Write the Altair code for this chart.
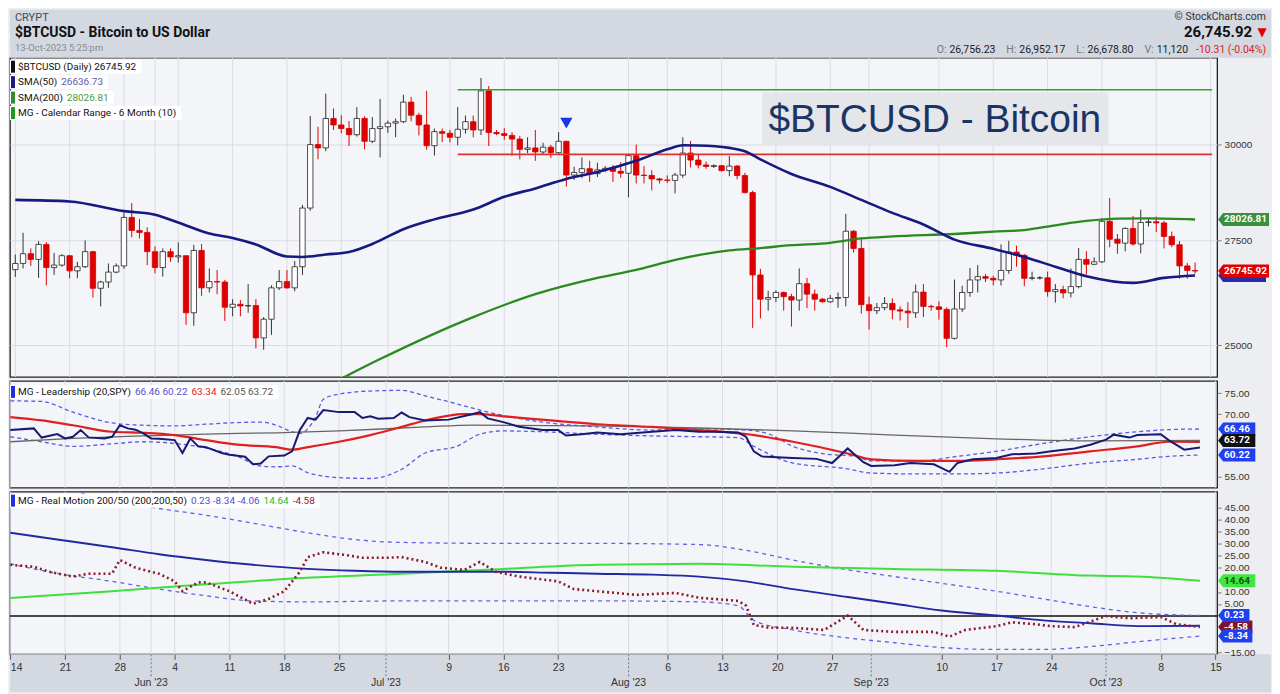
import json
import altair as alt
import pandas as pd

# ---------------------------------------------------------------- data
T0 = pd.Timestamp("2023-05-14")          # first daily candle (crypto trades 7 days a week)

OPEN = [26780, 26930, 27170, 27030, 27400, 26830, 26890, 27120, 26750, 26850,
        27220, 26330, 26480, 26720, 26870, 28080, 27750, 27700, 27220, 26830,
        27220, 27090, 27120, 25750, 27250, 26340, 26490, 26480, 25880, 25950,
        25910, 25920, 25170, 25600, 26340, 26490, 26340, 26850, 28320, 30000,
        29910, 30720, 30540, 30440, 30270, 30720, 30090, 30440, 30490, 30590,
        30630, 31180, 30810, 30540, 29970, 30355, 30310, 30200, 30420, 30630,
        30400, 31500, 30330, 30300, 30250, 30150, 29870, 29910, 29800, 29930,
        29780, 30090, 29180, 29250, 29350, 29220, 29320, 29360, 29280, 29230,
        29700, 29180, 29170, 29080, 29050, 29040, 29180, 29770, 29580, 29450,
        29410, 29430, 29300, 29420, 29170, 28720, 26650, 26070, 26110, 26230,
        26130, 26050, 26440, 26190, 26070, 26010, 26090, 26110, 27730, 27300,
        25940, 25800, 25870, 25970, 25820, 25790, 25750, 26240, 25900, 25890,
        25830, 25160, 25840, 26230, 26530, 26610, 26570, 26530, 26760, 27210,
        27130, 26570, 26580, 26580, 26250, 26300, 26220, 26370, 27030, 26910,
        26970, 27980, 27530, 27430, 27800, 27410, 27950, 27970, 27940, 27600,
        27390, 26870, 26756.23]
HIGH = [27150, 27690, 27300, 27480, 27460, 27190, 27160, 27140, 26970, 27500,
        27240, 26510, 26930, 26930, 28200, 28450, 28040, 27830, 27350, 27300,
        27300, 27450, 27130, 27390, 27410, 26810, 26770, 26530, 26070, 26050,
        26430, 26070, 25650, 26400, 26770, 26770, 26990, 28400, 30790, 30490,
        31420, 31000, 30810, 30650, 31040, 30780, 30760, 31270, 30660, 30720,
        31390, 31330, 30880, 31500, 30440, 30440, 30400, 31040, 30800, 30800,
        31870, 31640, 30400, 30450, 30340, 30240, 30200, 30400, 30050, 29990,
        30340, 30100, 29400, 29650, 29560, 29510, 29420, 29450, 29520, 29740,
        30000, 29420, 29310, 29110, 29170, 29240, 30200, 30100, 29720, 29540,
        29470, 29450, 29690, 29450, 29240, 28770, 26800, 26270, 26280, 26250,
        26200, 26810, 26580, 26300, 26100, 26170, 26230, 28170, 27760, 27570,
        26130, 25980, 26120, 26090, 25900, 26000, 26420, 26430, 25940, 26020,
        25880, 26540, 26390, 26820, 26890, 26670, 26630, 27400, 27490, 27370,
        27160, 26730, 26620, 26730, 26430, 26390, 26810, 27310, 27230, 27080,
        28060, 28580, 27660, 27830, 28120, 28280, 28040, 28100, 27990, 27720,
        27480, 26940, 26952.17]
LOW = [26600, 26810, 26870, 26580, 26400, 26650, 26850, 26570, 26570, 26820,
       26110, 25900, 26340, 26690, 26800, 27580, 27550, 26890, 26690, 26610,
       26970, 26950, 25470, 25450, 26150, 26230, 26190, 25560, 25670, 25670,
       25750, 24930, 24900, 25240, 26290, 26320, 26260, 26650, 28250, 29600,
       29820, 30400, 30310, 29960, 30220, 29870, 30040, 29650, 30320, 30200,
       30590, 30640, 30250, 29860, 29700, 30070, 30060, 29980, 30300, 30200,
       30260, 29960, 30260, 30130, 29700, 29600, 29770, 29560, 29740, 29640,
       29740, 28880, 29050, 29100, 29000, 29130, 29260, 29000, 29110, 28600,
       28960, 28960, 28780, 28960, 28970, 28700, 29110, 29380, 29360, 29350,
       29370, 29270, 29150, 29070, 28700, 25400, 25620, 25800, 26000, 25800,
       25430, 25800, 25860, 25800, 25990, 25980, 25870, 25900, 27200, 25730,
       25360, 25720, 25810, 25600, 25570, 25400, 25630, 25650, 25800, 25590,
       24960, 25130, 25770, 26130, 26230, 26480, 26400, 26400, 26680, 26850,
       26380, 26520, 26540, 26130, 25990, 26090, 26110, 26330, 26660, 26890,
       26940, 27330, 27170, 27230, 27370, 27180, 27850, 27710, 27300, 27330,
       26560, 26560, 26678.80]
CLOSE = [26930, 27170, 27030, 27400, 26830, 26890, 27120, 26750, 26850, 27220,
         26330, 26480, 26720, 26870, 28080, 27750, 27700, 27220, 26830, 27220,
         27090, 27120, 25750, 27250, 26340, 26490, 26480, 25880, 25950, 25910,
         25920, 25170, 25600, 26340, 26490, 26340, 26850, 28320, 30000, 29910,
         30720, 30540, 30440, 30270, 30720, 30090, 30440, 30490, 30590, 30630,
         31180, 30810, 30540, 29970, 30355, 30310, 30200, 30420, 30630, 30400,
         31500, 30330, 30300, 30250, 30150, 29870, 29910, 29800, 29930, 29780,
         30090, 29180, 29250, 29350, 29220, 29320, 29360, 29280, 29230, 29700,
         29180, 29170, 29080, 29050, 29040, 29180, 29770, 29580, 29450, 29410,
         29430, 29300, 29420, 29170, 28720, 26650, 26070, 26110, 26230, 26130,
         26050, 26440, 26190, 26070, 26010, 26090, 26110, 27730, 27300, 25940,
         25800, 25870, 25970, 25820, 25790, 25750, 26240, 25900, 25890, 25830,
         25160, 25840, 26230, 26530, 26610, 26570, 26530, 26760, 27210, 27130,
         26570, 26580, 26580, 26250, 26300, 26220, 26370, 27030, 26910, 26970,
         27980, 27530, 27430, 27800, 27410, 27950, 27970, 27940, 27600, 27390,
         26870, 26760, 26745.92]

SMA50_DATES = ["05-14", "05-21", "05-28", "06-01", "06-04", "06-08", "06-11", "06-14", "06-18", "06-20",
               "06-23", "06-26", "06-29", "07-03", "07-07", "07-12", "07-16", "07-20", "07-24", "07-28",
               "08-02", "08-06", "08-08", "08-10", "08-14", "08-16", "08-18", "08-22", "08-27", "08-31",
               "09-04", "09-08", "09-12", "09-17", "09-21", "09-25", "09-29", "10-05", "10-09", "10-13"]
SMA50 = [28530, 28490, 28240, 28150, 27950, 27670, 27560, 27400, 27100, 27090,
         27150, 27210, 27410, 27780, 28030, 28280, 28610, 28830, 29080, 29260,
         29560, 29870, 29980, 29975, 29910, 29820, 29600, 29210, 28870, 28530,
         28195, 27900, 27520, 27290, 27090, 26850, 26620, 26460, 26580, 26637]
SMA200_DATES = ["06-23", "06-30", "07-12", "07-20", "07-28", "08-02", "08-06", "08-10", "08-14", "08-18",
                "08-22", "08-27", "08-31", "09-04", "09-12", "09-17", "09-21", "09-25", "09-29", "10-03",
                "10-07", "10-13"]
SMA200 = [24080, 24690, 25650, 26190, 26580, 26775, 26970, 27135, 27250, 27310,
          27380, 27440, 27550, 27600, 27660, 27720, 27760, 27880, 27990, 28050,
          28055, 28027]
CAL_START, CAL_HIGH, CAL_LOW = "07-10", 31530, 29735
MARK_DATE, MARK_PRICE = "07-24", 30590

LEAD_DATES = ["05-14", "05-17", "05-18", "05-20", "05-21", "05-22", "05-23", "05-24", "05-26", "05-27",
              "05-28", "05-29", "05-30", "05-31", "06-01", "06-02", "06-04", "06-05", "06-06", "06-07",
              "06-08", "06-10", "06-11", "06-13", "06-14", "06-15", "06-16", "06-18", "06-19", "06-20",
              "06-21", "06-22", "06-23", "06-25", "06-27", "06-28", "06-29", "06-30", "07-02", "07-03",
              "07-04", "07-06", "07-09", "07-12", "07-13", "07-14", "07-16", "07-18", "07-21", "07-23",
              "07-24", "07-26", "07-28", "07-31", "08-04", "08-07", "08-10", "08-12", "08-15", "08-16",
              "08-17", "08-18", "08-20", "08-22", "08-25", "08-27", "08-29", "08-31", "09-01", "09-04",
              "09-06", "09-09", "09-11", "09-12", "09-14", "09-17", "09-19", "09-22", "09-24", "09-27",
              "09-29", "10-01", "10-02", "10-04", "10-05", "10-08", "10-09", "10-11", "10-13"]
LEAD = [66.2, 66.6, 64.4, 65.25, 64.2, 64.6, 66.2, 64.45, 64.2, 64.6,
        67.35, 66.6, 66.3, 65.4, 64.2, 64.1, 63.8, 60.7, 64.2, 62.3,
        62.1, 60.7, 60.3, 59.8, 58.0, 58.2, 59.9, 60.1, 61.1, 66.2,
        69.1, 68.7, 71.0, 70.5, 70.5, 69.1, 69.5, 68.9, 69.1, 70.4,
        69.3, 68.5, 68.7, 70.0, 70.5, 69.0, 68.1, 67.0, 66.2, 66.2,
        64.9, 65.2, 65.6, 65.2, 65.8, 66.2, 65.8, 65.8, 65.6, 64.6,
        61.1, 59.9, 59.7, 59.5, 59.3, 58.3, 61.8, 58.5, 57.6, 57.8,
        58.3, 58.0, 56.2, 58.3, 59.2, 59.5, 60.4, 60.6, 61.1, 61.8,
        62.7, 63.9, 65.1, 64.4, 65.0, 65.2, 63.8, 61.5, 62.05]
LEAD_MA_DATES = ["05-14", "05-18", "05-22", "05-27", "05-31", "06-04", "06-08", "06-12", "06-17", "06-19",
                 "06-21", "06-25", "06-29", "07-03", "07-06", "07-11", "07-13", "07-16", "07-22", "07-28",
                 "08-04", "08-10", "08-16", "08-22", "08-29", "09-01", "09-07", "09-12", "09-17", "09-23",
                 "09-29", "10-05", "10-09", "10-13"]
LEAD_MA = [69.3, 68.5, 67.35, 65.8, 65.55, 65.0, 63.8, 62.7, 62.1, 61.5,
           62.1, 63.4, 65.0, 66.95, 68.5, 70.0, 70.0, 69.5, 68.5, 67.6,
           66.95, 66.2, 65.25, 63.4, 60.6, 59.2, 58.8, 58.8, 59.2, 59.9,
           61.1, 62.3, 63.4, 63.34]
LEAD_SLOW_DATES = ["05-14", "05-22", "05-31", "06-08", "06-17", "06-25", "07-06", "07-12", "07-28", "08-10",
                   "08-22", "09-04", "09-17", "09-29", "10-13"]
LEAD_SLOW = [63.4, 64.2, 64.8, 65.25, 65.55, 66.0, 66.95, 67.4, 67.2, 66.7, 66.0, 65.0, 64.1, 63.6, 63.72]
LEAD_UP_DATES = ["05-14", "05-18", "05-22", "05-27", "05-31", "06-04", "06-08", "06-12", "06-15", "06-17",
                 "06-19", "06-20", "06-22", "06-23", "06-25", "06-29", "07-03", "07-06", "07-10", "07-13",
                 "07-17", "07-21", "07-28", "08-04", "08-10", "08-16", "08-19", "08-22", "08-26", "08-30",
                 "09-01", "09-07", "09-12", "09-17", "09-23", "09-29", "10-05", "10-09", "10-13"]
LEAD_UP = [73.2, 73.05, 70.5, 67.9, 67.35, 67.2, 67.6, 68.0, 68.1, 67.35,
           65.8, 65.4, 69.3, 73.6, 74.8, 75.55, 75.7, 74.4, 72.5, 71.0,
           69.3, 68.1, 66.95, 66.2, 66.5, 66.2, 65.2, 62.3, 60.5, 59.9,
           58.8, 58.8, 59.9, 61.1, 63.0, 64.6, 65.8, 66.3, 66.46]
LEAD_LO_DATES = ["05-14", "05-18", "05-22", "05-27", "05-31", "06-04", "06-08", "06-12", "06-15", "06-17",
                 "06-19", "06-21", "06-25", "06-29", "07-03", "07-06", "07-10", "07-13", "07-16", "07-21",
                 "07-28", "08-04", "08-10", "08-15", "08-17", "08-22", "08-29", "09-01", "09-07", "09-12",
                 "09-17", "09-23", "09-29", "10-05", "10-09", "10-13"]
LEAD_LO = [64.6, 63.4, 62.3, 62.9, 63.4, 63.0, 61.9, 59.9, 57.6, 57.4,
           57.6, 56.0, 54.8, 54.6, 56.8, 60.7, 62.3, 65.2, 66.0, 65.8,
           65.2, 64.8, 64.6, 64.4, 62.3, 58.3, 56.9, 55.9, 55.7, 55.7,
           55.9, 56.9, 58.3, 59.2, 59.9, 60.22]

RM_DATES = ["05-14", "05-20", "05-27", "06-02", "06-08", "06-14", "06-21", "06-27", "07-03", "07-16",
            "07-22", "07-28", "08-04", "08-10", "08-16", "08-22", "08-29", "09-04", "09-10", "09-17",
            "09-23", "09-29", "10-05", "10-13"]
RM = [34.6, 31.8, 28.6, 25.7, 23.3, 21.3, 19.6, 18.8, 18.4, 18.4,
      18.0, 17.6, 17.2, 16.4, 14.4, 11.2, 7.9, 5.1, 2.3, 0.2,
      -1.8, -3.0, -4.2, -4.06]
RM_SIG_DATES = ["05-14", "05-27", "06-08", "06-21", "07-03", "07-16", "07-28", "08-10", "08-22", "09-04",
                "09-17", "09-29", "10-05", "10-13"]
RM_SIG = [7.5, 10.3, 13.2, 15.9, 17.6, 19.6, 21.3, 21.7, 20.5, 19.6, 18.8, 16.8, 16.4, 14.64]
RM_UP_DATES = ["05-22", "06-02", "06-08", "06-14", "06-21", "06-27", "07-03", "07-16", "07-28", "08-10",
               "08-16", "08-22", "08-29", "09-04", "09-10", "09-17", "09-23", "09-29", "10-05", "10-13"]
RM_UP = [52.0, 44.7, 41.9, 38.6, 34.6, 31.8, 30.6, 30.2, 30.2, 29.7,
         27.3, 23.3, 19.2, 16.4, 13.6, 10.3, 7.1, 3.9, 1.4, 0.23]
RM_LO_DATES = ["05-14", "05-20", "05-27", "06-02", "06-08", "06-14", "06-21", "07-03", "07-16", "07-28",
               "08-10", "08-15", "08-17", "08-22", "08-29", "09-04", "09-10", "09-17", "09-23", "09-29",
               "10-05", "10-13"]
RM_LO = [21.7, 17.7, 14.4, 11.2, 8.4, 6.3, 5.9, 6.3, 6.3, 6.3,
         5.9, 4.3, -1.8, -5.8, -9.1, -11.1, -13.1, -13.9, -13.9, -12.7,
         -10.7, -8.34]
RM_PX_DATES = ["05-14", "05-17", "05-19", "05-22", "05-24", "05-27", "05-28", "05-30", "06-02", "06-04",
               "06-05", "06-07", "06-08", "06-11", "06-14", "06-16", "06-18", "06-20", "06-21", "06-23",
               "06-26", "06-28", "07-01", "07-03", "07-06", "07-08", "07-11", "07-13", "07-15", "07-18",
               "07-23", "07-25", "07-28", "08-02", "08-07", "08-10", "08-15", "08-16", "08-17", "08-19",
               "08-22", "08-26", "08-29", "08-31", "09-04", "09-09", "09-11", "09-13", "09-17", "09-19",
               "09-22", "09-24", "09-27", "10-01", "10-04", "10-08", "10-10", "10-13"]
RM_PX = [21.3, 20.5, 18.4, 16.4, 17.6, 17.6, 23.3, 20.1, 17.6, 14.4,
         10.3, 14.0, 14.0, 10.3, 5.1, 7.1, 10.3, 18.4, 24.5, 26.5,
         25.3, 24.2, 24.2, 24.5, 22.5, 20.1, 19.2, 22.5, 18.4, 16.4,
         14.4, 11.2, 10.3, 8.8, 9.6, 7.6, 6.3, 4.3, -3.7, -4.9,
         -4.9, -5.8, 0.2, -5.8, -6.6, -6.6, -8.6, -5.8, -4.2, -2.6,
         -3.4, -4.2, -4.6, 0.0, -0.9, -0.4, -3.4, -4.58]

TICK_DATES = ["05-14", "05-21", "05-28", "06-04", "06-11", "06-18", "06-25", "07-09", "07-16", "07-23",
              "08-06", "08-13", "08-20", "08-27", "09-10", "09-17", "09-24", "10-08", "10-15"]
TICK_LABELS = ["14", "21", "28", "4", "11", "18", "25", "9", "16", "23",
               "6", "13", "20", "27", "10", "17", "24", "8", "15"]
MONTH_DATES = ["06-01", "07-01", "08-01", "09-01", "10-01"]
MONTH_LABELS = ["Jun '23", "Jul '23", "Aug '23", "Sep '23", "Oct '23"]


def dd(lst):
    return [(pd.Timestamp("2023-" + s) - T0).days for s in lst]


# ---------------------------------------------------------------- layout
W, S = 1210, 54
H1, H2, H3 = 320, 107, 163
HDR, XAX = 48, 38
XS = alt.Scale(domain=[-0.04, 154.2], nice=False, zero=False)
YS1 = alt.Scale(type="log", domain=[24293, 32463], nice=False)
YS2 = alt.Scale(domain=[52.4, 77.97], nice=False, zero=False)
YS3 = alt.Scale(domain=[-15.9, 51.7], nice=False, zero=False)

CW = {c: 0.5615 for c in "0123456789$"}
CW.update({'.': 0.263, ',': 0.196, ' ': 0.248, '-': 0.276, '(': 0.342, ')': 0.348, '/': 0.412,
           ':': 0.242, '%': 0.73, "'": 0.17,
           'A': .652, 'B': .622, 'C': .651, 'D': .656, 'E': .568, 'F': .553, 'G': .681, 'H': .713,
           'I': .272, 'K': .627, 'L': .538, 'M': .873, 'N': .713, 'O': .688, 'P': .631, 'R': .616,
           'S': .593, 'T': .596, 'U': .648, 'V': .636, 'Y': .601,
           'a': .544, 'b': .561, 'c': .523, 'd': .564, 'e': .530, 'g': .561, 'h': .551, 'i': .243,
           'k': .507, 'l': .243, 'm': .876, 'n': .552, 'o': .570, 'p': .561, 'r': .338, 's': .516,
           't': .327, 'u': .551, 'y': .474})


def tw(s, size, bold=False):
    return sum(CW.get(c, 0.55) for c in s) * size * (1.05 if bold else 1.0)


def one():
    return alt.Data(values=[{"k": 1}])


def txt(s, x, y, size=10, color="#111", weight="normal", align="left", font="Roboto"):
    return alt.Chart(one()).mark_text(text=s, fontSize=size, color=color, fontWeight=weight,
                                      align=align, baseline="middle", font=font).encode(
        x=alt.value(x), y=alt.value(y))


def box(x0, x1, y0, y1, color):
    return alt.Chart(one()).mark_rect(color=color, opacity=1).encode(
        x=alt.value(x0), x2=alt.value(x1), y=alt.value(y0), y2=alt.value(y1))


AXF = dict(orient="right", tickSize=4, tickColor="#777", labelPadding=3, labelFontSize=10,
           labelFont="Liberation Sans", labelColor="#333", domain=False, title=None)
AX1 = alt.Axis(values=[25000, 27500, 30000], format="d", grid=True, gridColor="#d9dce4", **AXF)
AX2 = alt.Axis(values=[55, 70, 75], format=".2f", grid=False, **AXF)
AX3 = alt.Axis(values=[45, 40, 35, 30, 25, 20, 10, 5, -15], format=".2f", grid=False, zindex=1, **AXF)
XAXIS = alt.Axis(values=dd(TICK_DATES),
                 labelExpr="%s[indexof(%s, datum.value)]" % (json.dumps(TICK_LABELS), json.dumps(dd(TICK_DATES))),
                 orient="bottom", tickSize=5, tickColor="#555", labelColor="#333", labelFontSize=10.5,
                 labelFont="Liberation Sans", labelPadding=3, domain=False, grid=False, title=None,
                 zindex=1, labelFlush=True, labelOverlap=False)


class Panel:
    """Every layer of a panel carries the same axis definition, so nothing conflicts when merged."""

    def __init__(self, ys, yax, xax):
        self.ys, self.yax, self.xax = ys, yax, xax

    def x(self, field="day"):
        return alt.X(field + ":Q", scale=XS, axis=self.xax)

    def y(self, field="v"):
        return alt.Y(field + ":Q", scale=self.ys, axis=self.yax)

    def line(self, dates, vals, color, width=2.0, dash=None, interp="monotone"):
        df = pd.DataFrame({"day": dd(dates), "v": vals})
        kw = dict(color=color, strokeWidth=width, interpolate=interp, clip=True)
        if dash:
            kw["strokeDash"] = dash
        return alt.Chart(df).mark_line(**kw).encode(x=self.x(), y=self.y())

    def grid(self, h):
        return alt.Chart(pd.DataFrame({"day": GRID_DAYS})).mark_rule(color="#d9dce4", strokeWidth=1).encode(
            x=self.x(), y=alt.value(0), y2=alt.value(h))

    def tags(self, items):
        rows = []
        for v, label, fill, tcol in items:
            w = min(S - 3, 11 + tw(label, 10, True)) if label else S - 6
            rows.append({"v": v, "label": label, "fill": fill, "tcol": tcol,
                         "path": "M0,0L5,-6.5L%.1f,-6.5L%.1f,6.5L5,6.5Z" % (w, w)})
        df = pd.DataFrame(rows)
        sym = alt.Chart(df).mark_point(filled=True, opacity=1, size=4, strokeWidth=0).encode(
            x=alt.value(W + 1), y=self.y(),
            shape=alt.Shape("path:N", scale=None), color=alt.Color("fill:N", scale=None))
        lab = alt.Chart(df).mark_text(align="left", baseline="middle", fontSize=10, fontWeight="bold",
                                      font="Roboto").encode(
            x=alt.value(W + 7), y=self.y(), text="label:N", color=alt.Color("tcol:N", scale=None))
        return [sym, lab]


GRID_DAYS = sorted(set(dd(TICK_DATES) + dd(MONTH_DATES)))


def legend(runs, yc, bar, size=10):
    total = 8 + sum(tw(t, size) for t, _ in runs) + 4 * (len(runs) - 1) + 5
    out = [box(0, total, yc - 7, yc + 7, "white"), box(1, 5, yc - 6, yc + 6, bar)]
    x = 8
    for t, c in runs:
        out.append(txt(t, x, yc, size, c))
        x += tw(t, size) + 4
    return out


# ---------------------------------------------------------------- main price panel
P1 = Panel(YS1, AX1, None)
cdf = pd.DataFrame({"day": range(len(OPEN)), "open": OPEN, "high": HIGH, "low": LOW, "close": CLOSE})
up = cdf[cdf["close"] >= cdf["open"]]
dn = cdf[cdf["close"] < cdf["open"]]
cal = pd.DataFrame({"s": dd([CAL_START, CAL_START]), "e": [154.2, 154.2], "v": [CAL_HIGH, CAL_LOW],
                    "c": ["#2ea52e", "#e23030"]})

main_layers = [
    P1.grid(H1),
    alt.Chart(up).mark_rule(color="#333", strokeWidth=1, clip=True).encode(
        x=P1.x(), y=P1.y("low"), y2="high:Q"),
    alt.Chart(dn).mark_rule(color="#e00000", strokeWidth=1, clip=True).encode(
        x=P1.x(), y=P1.y("low"), y2="high:Q"),
    alt.Chart(up).mark_bar(size=5.4, fill="white", stroke="#222", strokeWidth=0.8, clip=True).encode(
        x=P1.x(), y=P1.y("open"), y2="close:Q"),
    alt.Chart(dn).mark_bar(size=5.4, fill="#e00000", stroke="#d00000", strokeWidth=0.8, clip=True).encode(
        x=P1.x(), y=P1.y("open"), y2="close:Q"),
    alt.Chart(cal).mark_rule(strokeWidth=1.6).encode(
        x=P1.x("s"), x2="e:Q", y=P1.y("v"), color=alt.Color("c:N", scale=None)),
    P1.line(SMA200_DATES, SMA200, "#2a8a1e", 2.3),
    P1.line(SMA50_DATES, SMA50, "#141a80", 2.6),
    alt.Chart(pd.DataFrame({"day": dd([MARK_DATE]), "v": [MARK_PRICE]})).mark_point(
        shape="triangle-down", filled=True, color="#1638e6", size=150, opacity=1).encode(
        x=P1.x(), y=P1.y()),
    box(754, 1101, 35, 88, "#e5e6ea"),
    txt("$BTCUSD - Bitcoin", 927, 62, 39, "#1b3466", align="center", font="Liberation Sans"),
]
main_layers += legend([("$BTCUSD (Daily) 26745.92", "#111")], 9, "#111")
main_layers += legend([("SMA(50)", "#111"), ("26636.73", "#5d5da8")], 24.5, "#1a1a80")
main_layers += legend([("SMA(200)", "#111"), ("28026.81", "#4b9a3c")], 40, "#2f8f2f")
main_layers += legend([("MG - Calendar Range - 6 Month (10)", "#111")], 55.5, "#1f9a1f")
main_layers += P1.tags([(26636.73, "", "#2b2ba8", "white"),
                        (26745.92, "26745.92", "#e00000", "white"),
                        (28026.81, "28026.81", "#3d8f3d", "white")])

# header strip
main_layers += [
    box(0, W + S, -HDR, 0, "#d3d8e1"),
    txt("CRYPT", 5, -40, 11, "#4a4a4a"),
    txt("$BTCUSD - Bitcoin to US Dollar", 5, -25, 14, "#111", "bold"),
    txt("13-Oct-2023 5:25:pm", 5, -10, 9.5, "#8a8a8a"),
    txt("© StockCharts.com", W + S - 5, -41, 10.5, "#333", align="right"),
    txt("26,745.92", W + S - 19, -26, 15, "#111", "bold", align="right"),
    txt("▼", W + S - 9, -26, 12, "#e00000", align="center", font="DejaVu Sans"),
]
OHLC_RUNS = [("O:", "#777", 0), ("26,756.23", "#222", 3), ("H:", "#777", 11), ("26,952.17", "#222", 3),
             ("L:", "#777", 11), ("26,678.80", "#222", 3), ("V:", "#777", 11), ("11,120", "#222", 3),
             ("-10.31 (-0.04%)", "#e02020", 8)]
total = sum(g + tw(t, 10.5) for t, _, g in OHLC_RUNS)
xx = W + S - 5 - total
for t, c, g in OHLC_RUNS:
    xx += g
    main_layers.append(txt(t, xx, -8, 10.5, c))
    xx += tw(t, 10.5)

main = alt.layer(*main_layers).properties(width=W, height=H1)

# ---------------------------------------------------------------- leadership panel
P2 = Panel(YS2, AX2, None)
mid_layers = [
    P2.grid(H2),
    P2.line(LEAD_UP_DATES, LEAD_UP, "#5a5ae6", 1.3, dash=[4, 3]),
    P2.line(LEAD_LO_DATES, LEAD_LO, "#5a5ae6", 1.3, dash=[4, 3]),
    P2.line(LEAD_SLOW_DATES, LEAD_SLOW, "#666666", 1.3),
    P2.line(LEAD_MA_DATES, LEAD_MA, "#e02020", 2.2),
    P2.line(LEAD_DATES, LEAD, "#161a72", 2.0, interp="linear"),
]
mid_layers += legend([("MG - Leadership (20,SPY)", "#111"), ("66.46 60.22", "#5050d0"),
                      ("63.34", "#e02020"), ("62.05 63.72", "#555555")], 11, "#2030e0")
mid_layers += P2.tags([(66.46, "66.46", "#2040f0", "white"),
                       (63.72, "63.72", "#111111", "white"),
                       (60.22, "60.22", "#2040f0", "white")])
mid = alt.layer(*mid_layers).properties(width=W, height=H2)

# ---------------------------------------------------------------- real motion panel
P3 = Panel(YS3, AX3, XAXIS)
mdf = pd.DataFrame({"day": dd(MONTH_DATES), "label": MONTH_LABELS})
bot_layers = [
    P3.grid(H3),
    alt.Chart(pd.DataFrame({"v": [0]})).mark_rule(color="#111", strokeWidth=1.5).encode(
        x=alt.value(0), x2=alt.value(W), y=P3.y()),
    P3.line(RM_UP_DATES, RM_UP, "#6262e6", 1.3, dash=[4, 4]),
    P3.line(RM_LO_DATES, RM_LO, "#6262e6", 1.3, dash=[4, 4]),
    P3.line(RM_SIG_DATES, RM_SIG, "#3ee03e", 2.0),
    P3.line(RM_DATES, RM, "#1f2aa0", 1.9),
    P3.line(RM_PX_DATES, RM_PX, "#8b1a2b", 2.6, dash=[2, 3], interp="linear"),
]
bot_layers += legend([("MG - Real Motion 200/50 (200,200,50)", "#111"), ("0.23 -8.34 -4.06", "#5050d0"),
                      ("14.64", "#22bb22"), ("-4.58", "#8b1a3a")], 9, "#2030e0")
bot_layers += P3.tags([(-4.58, "-4.58", "#7a1530", "white")])
bot_layers += P3.tags([(14.64, "14.64", "#3ee83e", "#1d4d1d"),
                       (0.23, "0.23", "#2040f0", "white"),
                       (-8.34, "-8.34", "#2040f0", "white")])
bot_layers += [
    box(0, W + S, H3, H3 + XAX, "#d3d8e1"),
    alt.Chart(mdf).mark_rule(color="#777", strokeDash=[2, 2], strokeWidth=1).encode(
        x=P3.x(), y=alt.value(H3), y2=alt.value(H3 + 22)),
    alt.Chart(mdf).mark_text(fontSize=10.5, font="Liberation Sans", color="#333", baseline="middle").encode(
        x=P3.x(), y=alt.value(H3 + 29), text="label:N"),
]
bot = alt.layer(*bot_layers).properties(width=W, height=H3)

chart = alt.vconcat(main, mid, bot, spacing=0).properties(
    padding=0, background="#eceef2"
).configure_view(fill="#f4f5f9", stroke="#222", strokeWidth=1.3)

chart.save("out.html", embed_options={"renderer": "svg", "actions": False})
